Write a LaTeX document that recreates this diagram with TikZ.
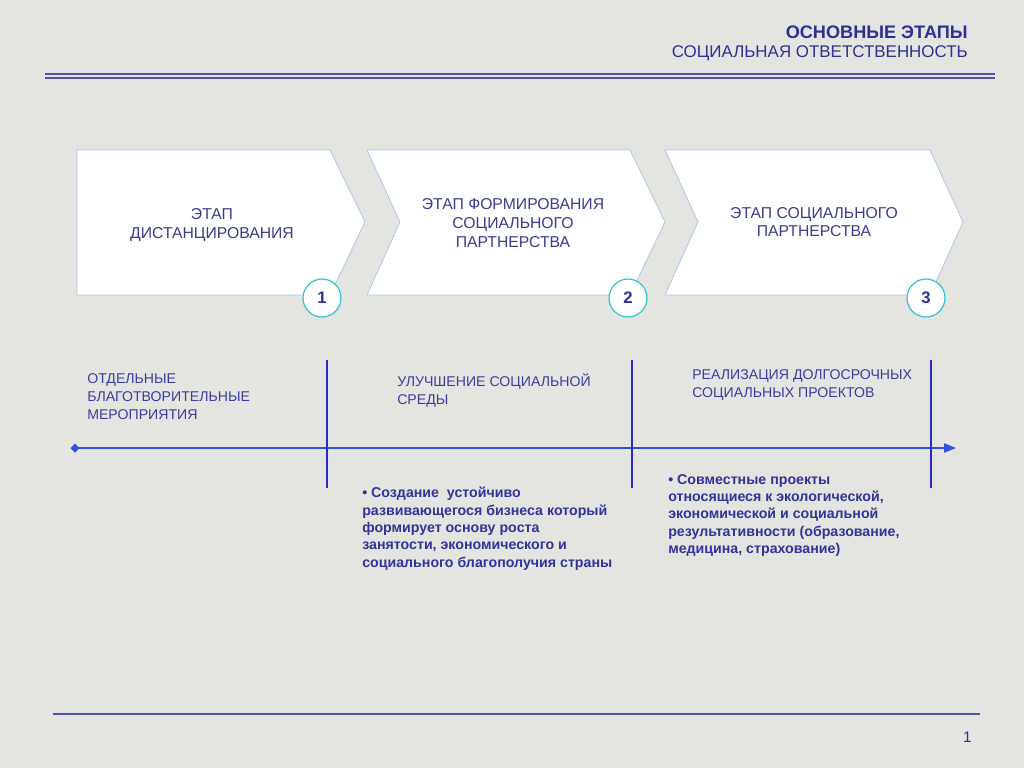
\documentclass[tikz,border=0pt]{standalone}
\usepackage{fontspec}
\setmainfont{Liberation Sans}
\usetikzlibrary{arrows.meta}
\definecolor{bg}{HTML}{E4E4E1}
\definecolor{navy}{HTML}{2E3092}
\definecolor{chevtxt}{HTML}{3B3B8F}
\definecolor{labtxt}{HTML}{3C3CA0}
\definecolor{boldtxt}{HTML}{33339A}
\definecolor{timeline}{HTML}{3050E0}
\definecolor{vline}{HTML}{2A2ACC}
\definecolor{chevborder}{HTML}{A8C8EC}
\definecolor{circborder}{HTML}{2EC4D0}
\definecolor{rule}{HTML}{4A55A8}
\tikzset{
  chev/.style={fill=white, draw=chevborder, line width=0.6pt},
  chevlabel/.style={text=chevtxt, align=center, font=\fontsize{11.8}{14}\selectfont},
  numcirc/.style={circle, fill=white, draw=circborder, line width=0.9pt, minimum size=28.5pt, inner sep=0pt, text=navy, font=\fontsize{12.5}{14}\selectfont\bfseries},
  stagelabel/.style={text=labtxt, align=left, anchor=north west, inner sep=0pt, font=\fontsize{10.6}{13.5}\selectfont},
  bodytxt/.style={text=boldtxt, align=left, anchor=north west, inner sep=0pt, font=\fontsize{10.65}{13}\selectfont\bfseries},
  divider/.style={draw=vline, line width=0.9pt},
}
\begin{document}
\begin{tikzpicture}[x=0.75pt, y=-0.75pt]
\useasboundingbox (0,0) rectangle (1024,768);
\fill[bg] (0,0) rectangle (1024,768);

% header
\node[anchor=base east, inner sep=0pt, text=navy, font=\fontsize{13.6}{15}\selectfont\bfseries] (title) at (968,38) {ОСНОВНЫЕ ЭТАПЫ};
\node[anchor=base east, inner sep=0pt, text=navy, font=\fontsize{12.7}{15}\selectfont] (subtitle) at (968,57) {СОЦИАЛЬНАЯ ОТВЕТСТВЕННОСТЬ};
\coordinate (hl1) at (45,74); \coordinate (hr1) at (995,74);
\coordinate (hl2) at (45,78); \coordinate (hr2) at (995,78);
\draw[rule, line width=1.4pt] (hl1) -- (hr1);
\draw[rule, line width=1.4pt] (hl2) -- (hr2);

% chevrons
\draw[chev] (77,150) -- (330,150) -- (365,222) -- (330,295) -- (77,295) -- cycle;
\draw[chev] (367,150) -- (630,150) -- (665,222) -- (630,295) -- (367,295) -- (400,222) -- cycle;
\draw[chev] (665,150) -- (930,150) -- (963,222) -- (930,295) -- (665,295) -- (698,222) -- cycle;

\node[chevlabel] (c1) at (212,225) {ЭТАП\\ДИСТАНЦИРОВАНИЯ};
\node[chevlabel] (c2) at (513,223) {ЭТАП ФОРМИРОВАНИЯ\\СОЦИАЛЬНОГО\\ПАРТНЕРСТВА};
\node[chevlabel] (c3) at (814,222) {ЭТАП СОЦИАЛЬНОГО\\ПАРТНЕРСТВА};

\node[numcirc] (n1) at (322,298) {1};
\node[numcirc] (n2) at (628,298) {2};
\node[numcirc] (n3) at (926,298) {3};

% stage labels
\node[stagelabel] (l1) at (87,373) {ОТДЕЛЬНЫЕ\\БЛАГОТВОРИТЕЛЬНЫЕ\\МЕРОПРИЯТИЯ};
\node[stagelabel] (l2) at (397,373) {УЛУЧШЕНИЕ СОЦИАЛЬНОЙ\\СРЕДЫ};
\node[stagelabel] (l3) at (692,369) {РЕАЛИЗАЦИЯ ДОЛГОСРОЧНЫХ\\СОЦИАЛЬНЫХ ПРОЕКТОВ};

% timeline
\coordinate (tstart) at (75,448);
\coordinate (tend) at (956,448);
\draw[timeline, line width=0.9pt, -{Triangle[length=9pt,width=7pt]}] (tstart) -- (tend);
\fill[timeline] (tstart) ++(-4.5,0) -- ++(4.5,-4.5) -- ++(4.5,4.5) -- ++(-4.5,4.5) -- cycle;

\coordinate (v1t) at (327,360); \coordinate (v1b) at (327,488);
\coordinate (v2t) at (632,360); \coordinate (v2b) at (632,488);
\coordinate (v3t) at (931,360); \coordinate (v3b) at (931,488);
\draw[divider] (v1t) -- (v1b);
\draw[divider] (v2t) -- (v2b);
\draw[divider] (v3t) -- (v3b);

% body texts
\node[bodytxt] (b2) at (362,487) {• Создание\ \ устойчиво\\развивающегося бизнеса который\\формирует основу роста\\занятости, экономического и\\социального благополучия страны};
\node[bodytxt] (b3) at (668,474) {• Совместные проекты\\относящиеся к экологической,\\экономической и социальной\\результативности (образование,\\медицина, страхование)};

% footer
\coordinate (fl) at (53,714); \coordinate (fr) at (980,714);
\draw[rule, line width=0.8pt] (fl) -- (fr);
\node[anchor=base east, inner sep=0pt, text=navy, font=\fontsize{11.5}{13}\selectfont] (page) at (972,742) {1};
\end{tikzpicture}
\end{document}
